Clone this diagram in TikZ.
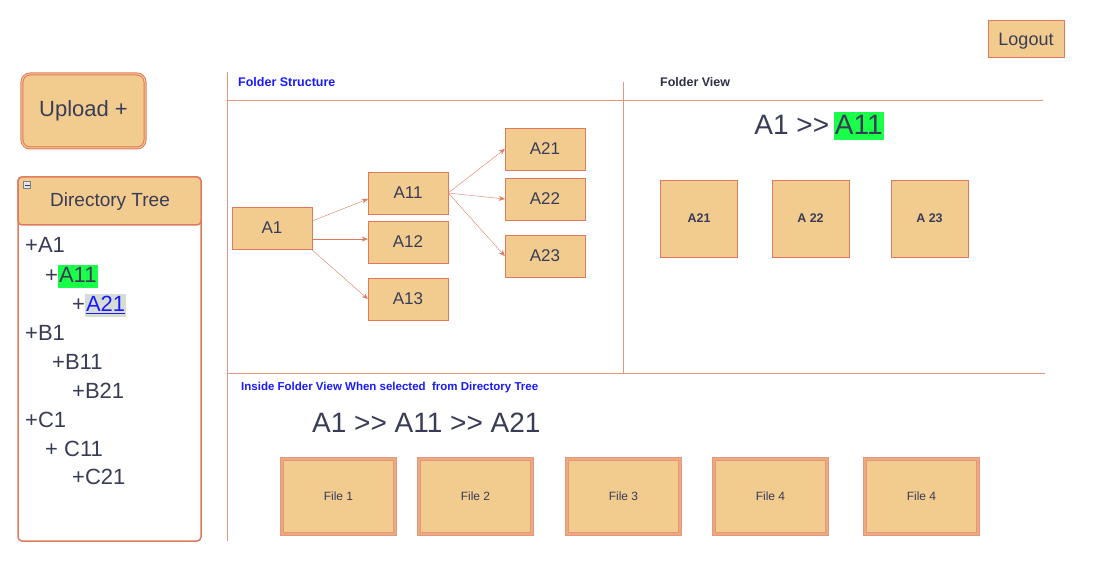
\documentclass[tikz,border=0pt]{standalone}
\usepackage{fontspec}
\setmainfont{Liberation Sans}
\usetikzlibrary{arrows.meta}
\definecolor{fillc}{HTML}{F2CC8F}
\definecolor{strk}{HTML}{E07A5F}
\definecolor{txt}{HTML}{393C56}
\definecolor{grn}{HTML}{1AFF4A}
\definecolor{blu}{HTML}{1A1AFF}
\newcommand{\dblgt}{{>}{>}}
\newcommand{\hlbox}[2]{\colorbox{#1}{\rule[-0.18em]{0pt}{0.95em}#2}}
\setlength{\fboxsep}{1bp}
\begin{document}
\begin{tikzpicture}[x=1bp,y=-1bp,
 box/.style={draw=strk,fill=fillc,text=txt,inner sep=0pt},
 fs/.style={font=\fontsize{#1bp}{#1bp}\selectfont},
 fsb/.style={font=\fontsize{#1bp}{#1bp}\selectfont\bfseries},
 arr/.style={draw=strk,-{Stealth[length=6bp,width=5bp]}},
 ln/.style={draw=strk!80,line width=0.8bp}]
\useasboundingbox[fill=white] (0,0) rectangle (1109,575);
% Logout
\node[box,minimum width=76bp,minimum height=37bp,fs=18,text depth=0pt] (logout) at (1026,38.5) {\raisebox{-2bp}{Logout}};
% Upload
\node[box,rounded corners=8bp,double=fillc,double distance=1bp,line width=1bp,minimum width=123bp,minimum height=74bp,fs=22] (upload) at (83.5,111) {Upload +};
% Directory tree
\draw[strk,line width=1.5bp,fill=white,rounded corners=4bp] (18,177) rectangle (201,541);
\draw[strk,line width=1.5bp,fill=fillc,rounded corners=4bp] (18,225) -- (18,177) -- (201,177) -- (201,225) -- cycle;
\node[fs=19,text=txt] (dt) at (110,202) {Directory Tree};
\node[draw=gray,fill=gray!20,minimum size=7bp,inner sep=0pt] (mini) at (27,185) {};
\draw[txt,line width=0.8bp] (24.5,185) -- (29.5,185);
\begin{scope}[every node/.style={anchor=base west,text=txt,fs=22,inner sep=0pt}]
\node (t1) at (25,253) {+A1};
\node (t2) at (45,283) {+\hlbox{grn}{A11}};
\node (t3) at (72,312) {+\hlbox{green!10!gray!30}{\textcolor{blu}{\underline{A21}}}};
\node (t4) at (25,340) {+B1};
\node (t5) at (52,369) {+B11};
\node (t6) at (72,398) {+B21};
\node (t7) at (25,427) {+C1};
\node (t8) at (45,456) {+ C11};
\node (t9) at (72,484) {+C21};
\end{scope}
% frame lines
\draw[ln] (227,72) -- (227,541);
\draw[ln] (227,100) -- (1043,100);
\draw[ln] (623,82) -- (623,373);
\draw[ln] (227,373) -- (1045,373);
\node[anchor=west,fsb=12.5,text=blu,inner sep=0pt] (fsl) at (238,82) {Folder Structure};
\node[anchor=west,fsb=12.5,text=txt!80!black,inner sep=0pt] (fvl) at (660,82) {Folder View};
% tree
\begin{scope}[every node/.style={box,minimum width=80bp,minimum height=42bp,fs=17}]
\node (A1) at (272,228) {A1};
\node (A11) at (408,193) {A11};
\node (A12) at (408,242) {A12};
\node (A13) at (408,299) {A13};
\node (A21) at (545,149) {A21};
\node (A22) at (545,199) {A22};
\node (A23) at (545,256) {A23};
\end{scope}
\draw[arr] (A1.east) ++(0,-7) -- (A11.west |- 0,199);
\draw[arr] (A1.east) ++(0,11) -- (A12.west |- 0,239);
\draw[arr] (A1.east) ++(0,22) -- (A13.west |- 0,299);
\draw[arr] (A11.east) -- (A21.west);
\draw[arr] (A11.east) -- (A22.west);
\draw[arr] (A11.east) -- (A23.west);
% folder view
\node[fs=28,text=txt,inner sep=0pt] (bc) at (819,126) {A1 \dblgt\,\hlbox{grn}{A11}};
\begin{scope}[every node/.style={box,minimum width=77bp,minimum height=77bp,fsb=12.5}]
\node (v1) at (699,218.5) {A21};
\node (v2) at (810.5,218.5) {A 22};
\node (v3) at (929.5,218.5) {A 23};
\end{scope}
% inside folder
\node[anchor=west,fs=11.5,text=blu,inner sep=0pt] (ifl) at (241,388) {\textbf{Inside Folder View When selected\ \ from Directory Tree}};
\node[anchor=west,fs=28,text=txt,inner sep=0pt] (bc2) at (312,423) {A1 \dblgt\ A11 \dblgt\ A21};
\begin{scope}[every node/.style={box,draw=strk!80,line width=1bp,double=fillc!60!strk,double distance=1.5bp,minimum width=113bp,minimum height=75bp,fs=12}]
\node (f1) at (338.5,496.5) {File 1};
\node (f2) at (475.5,496.5) {File 2};
\node (f3) at (623.5,496.5) {File 3};
\node (f4) at (770.5,496.5) {File 4};
\node (f5) at (921.5,496.5) {File 4};
\end{scope}
\end{tikzpicture}
\end{document}
